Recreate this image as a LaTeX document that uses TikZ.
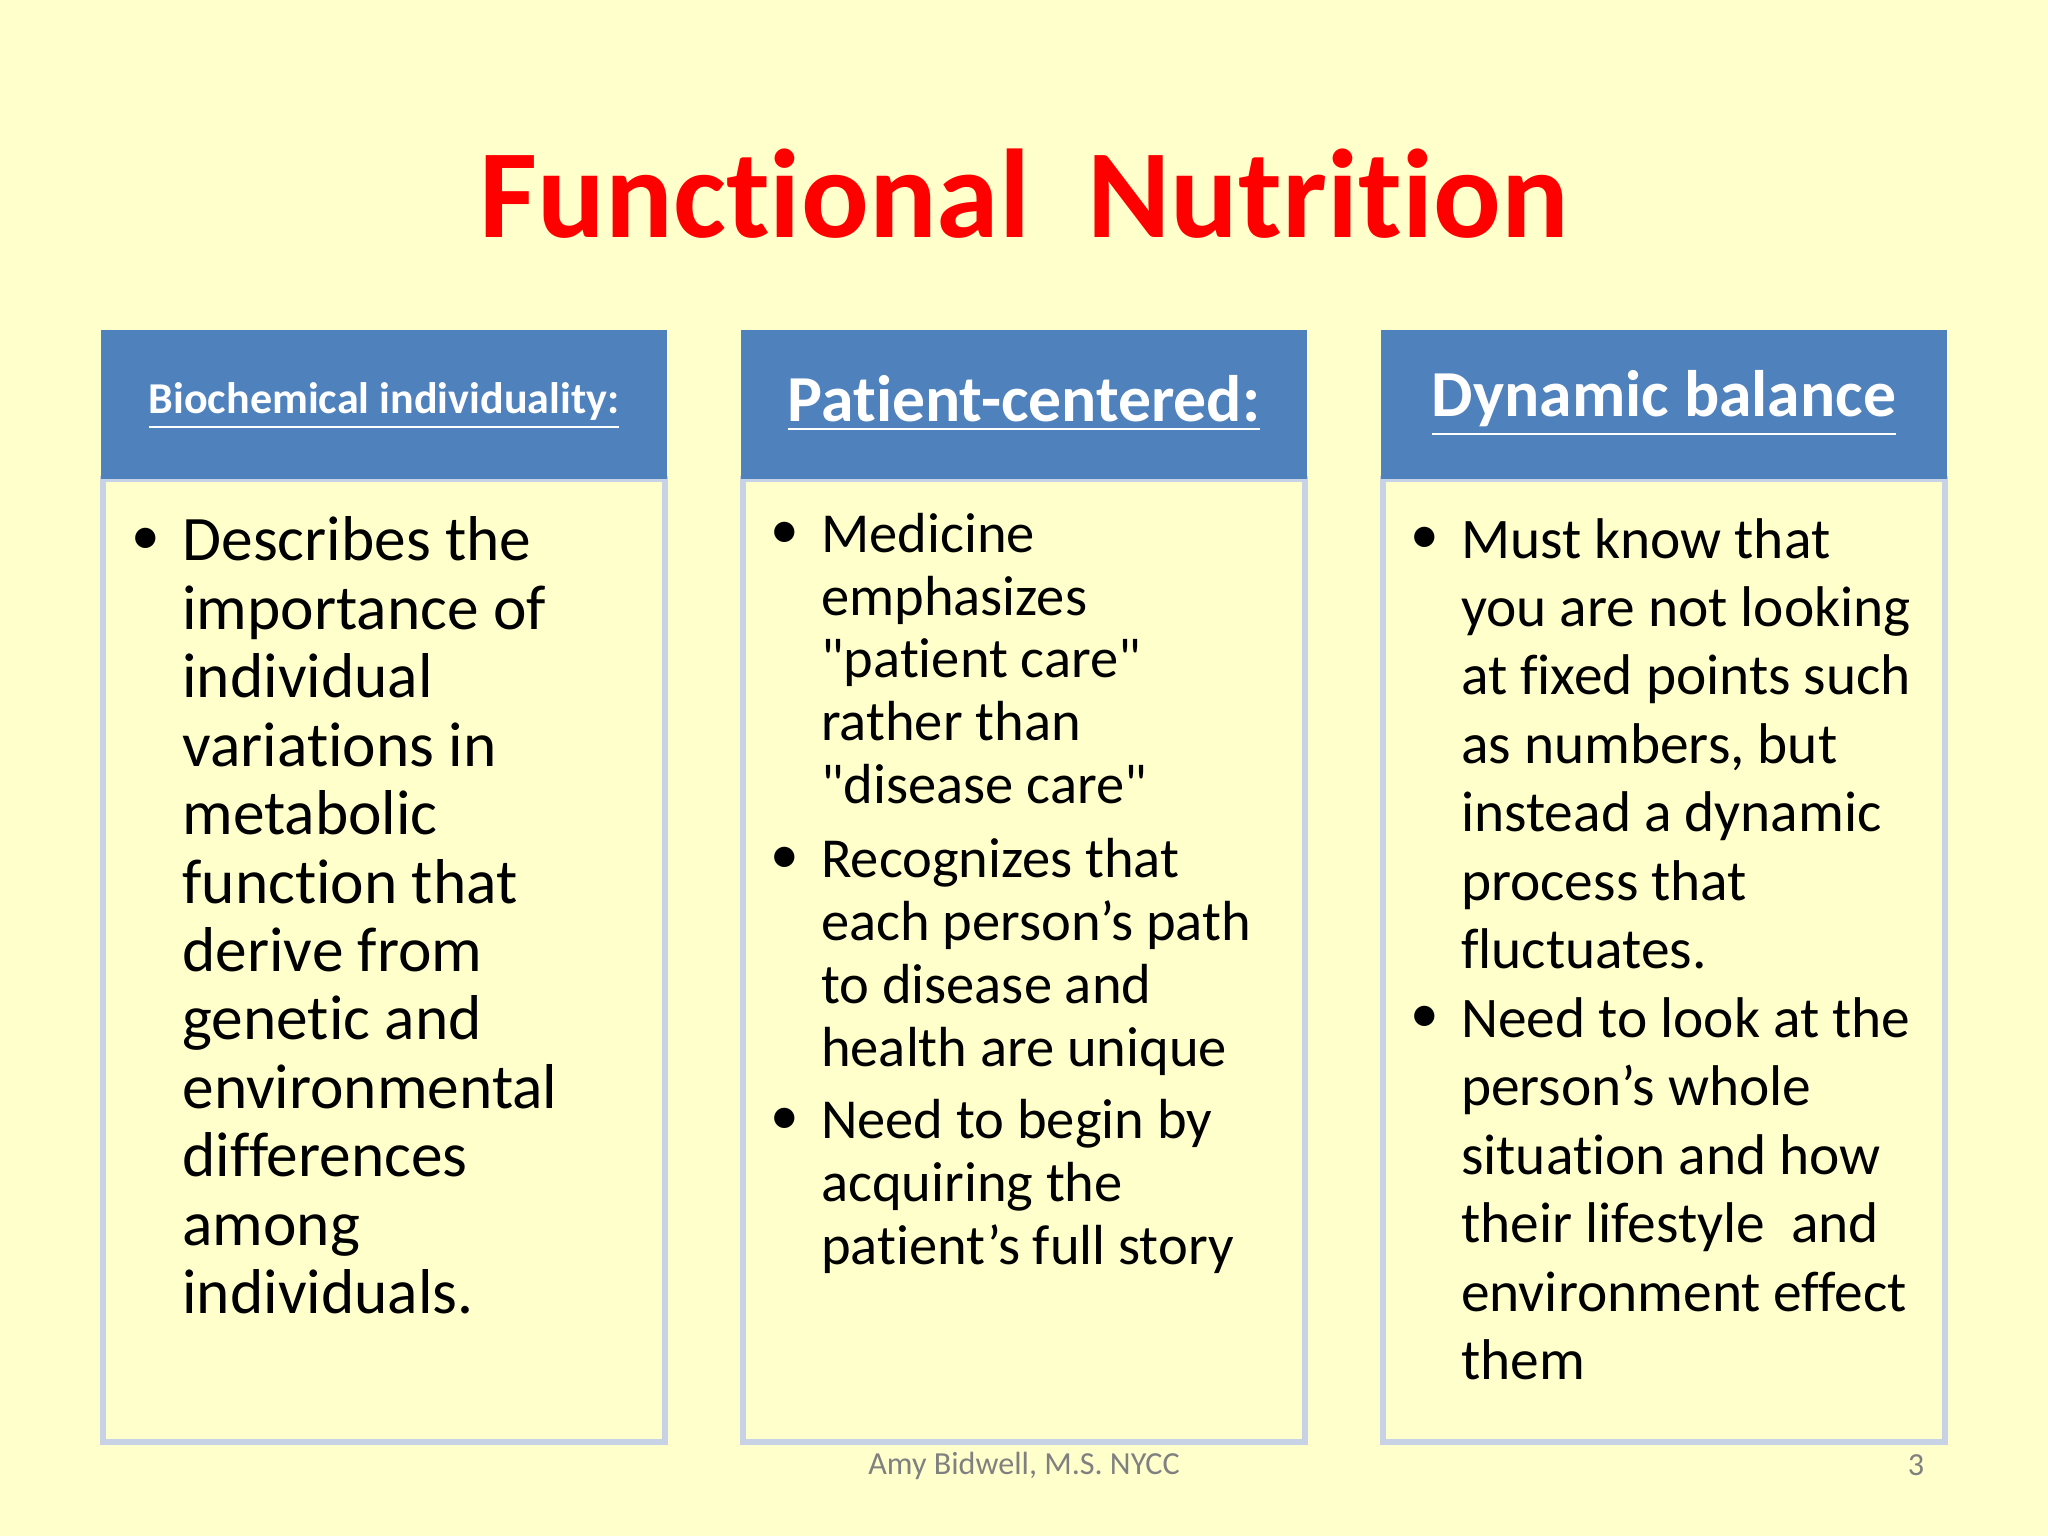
\documentclass[tikz,border=0pt]{standalone}
\usepackage{fontspec}
\setmainfont{Carlito}[Ligatures={NoCommon}]
\definecolor{bg}{HTML}{FFFFCC}
\definecolor{hdr}{HTML}{4F81BD}
\definecolor{brd}{HTML}{C8D2E6}
\begin{document}
\begin{tikzpicture}[x=0.01cm,y=-0.01cm,
 bbox/.style={draw=brd,line width=1.3pt},
 body/.style={anchor=north west,inner sep=0pt,align=left,font=\fontsize{12.5}{14.9}\selectfont},
 bodya/.style={anchor=north west,inner sep=0pt,align=left,font=\fontsize{13.8}{14.9}\selectfont},
 bodyb/.style={anchor=north west,inner sep=0pt,align=left,font=\fontsize{12.3}{13.7}\selectfont},
 bul/.style={anchor=north west,inner sep=0pt,font=\fontsize{12.5}{14.9}\selectfont},
 htxt/.style={text=white,font=\bfseries\fontsize{14.3}{16}\selectfont}]
\fill[bg] (0,0) rectangle (1568,1176);
\useasboundingbox (0,0) rectangle (1568,1176);
\node[text=red,font=\bfseries\fontsize{27.5}{32}\selectfont] (title) at (784,148) {Functional\ \ Nutrition};
\foreach \x/\n in {77/a,567/b,1057/c}{
 \draw[bbox] (\x+2,367) rectangle (\x+432,1104);
 \fill[hdr] (\x,253) rectangle (\x+434,367);
}
\node[htxt,font=\bfseries\fontsize{9.6}{11}\selectfont] (ha) at (294,311) {\underline{Biochemical individuality:}};
\node[htxt] (hb) at (784,309) {\underline{Patient-centered:}};
\node[htxt] (hc) at (1274,309) {\underline{Dynamic balance}};
% column 1
\node[bul] (b1) at (100,404) {\textbullet};
\node[bodya] (t1) at (139,395) {Describes the\\importance of\\individual\\variations in\\metabolic\\function that\\derive from\\genetic and\\environmental\\differences\\among\\individuals.};
% column 2
\node[bul] (b2) at (589,399) {\textbullet};
\node[bodyb] (t2) at (628,392) {Medicine\\emphasizes\\\textquotedbl patient care\textquotedbl\\rather than\\\textquotedbl disease care\textquotedbl};
\node[bul] (b3) at (589,648) {\textbullet};
\node[bodyb] (t3) at (628,641) {Recognizes that\\each person’s path\\to disease and\\health are unique};
\node[bul] (b4) at (589,848) {\textbullet};
\node[bodyb] (t4) at (628,841) {Need to begin by\\acquiring the\\patient’s full story};
% column 3
\node[bul] (b5) at (1079,403) {\textbullet};
\node[body] (t5) at (1118,396) {Must know that\\you are not looking\\at fixed points such\\as numbers, but\\instead a dynamic\\process that\\fluctuates.};
\node[bul] (b6) at (1079,770) {\textbullet};
\node[body] (t6) at (1118,763) {Need to look at the\\person’s whole\\situation and how\\their lifestyle\ \ and\\environment effect\\them};
\node[text=gray,font=\fontsize{7}{8}\selectfont] (ft) at (784,1122) {Amy Bidwell, M.S. NYCC};
\node[text=gray,font=\fontsize{7}{8}\selectfont] (pg) at (1467,1122) {3};
\end{tikzpicture}
\end{document}
